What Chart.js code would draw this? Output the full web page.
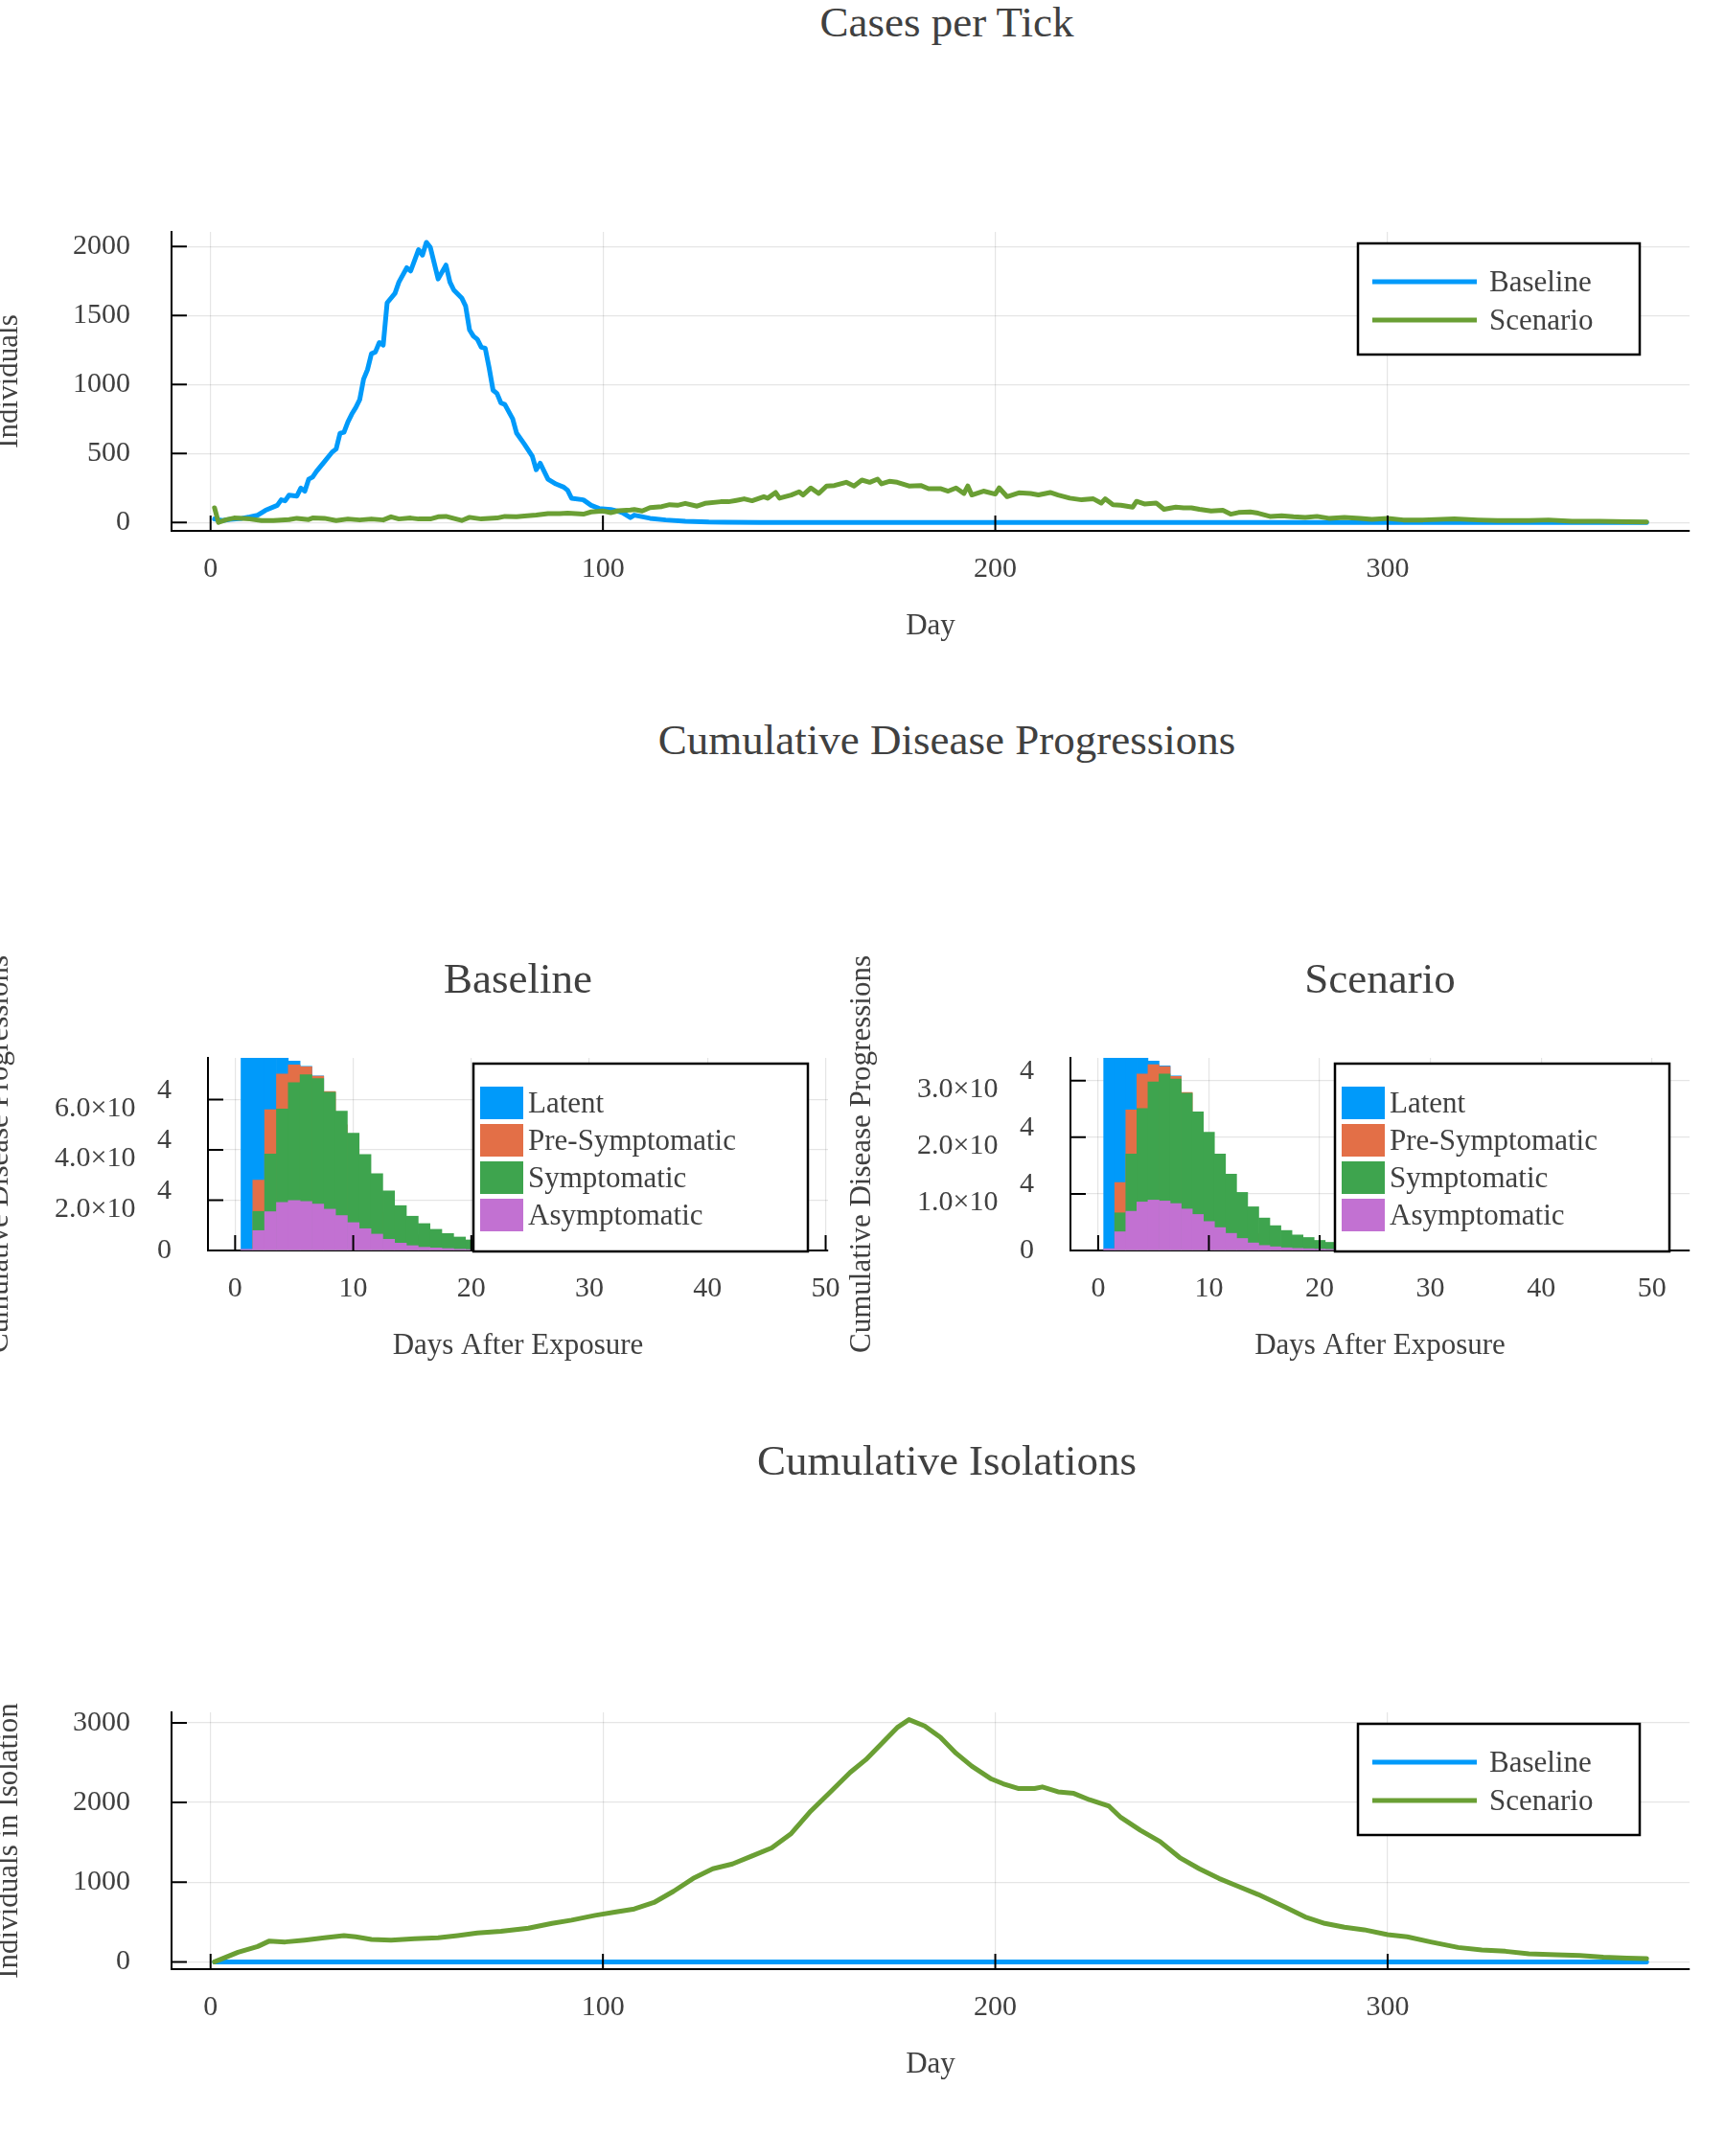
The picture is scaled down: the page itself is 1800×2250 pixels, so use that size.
<!DOCTYPE html>
<html>
<head>
<meta charset="utf-8">
<script src="https://cdn.jsdelivr.net/npm/chart.js@4.4.1/dist/chart.umd.min.js"></script>
<style>
  html, body { margin: 0; padding: 0; background: #fff; overflow: hidden; }
  #page { position: relative; width: 1800px; height: 2250px; }
  canvas { position: absolute; }
  .suptitle { position: absolute; left: 388px; width: 1200px; text-align: center;
    font: 45px/45px 'Liberation Serif', serif; color: #404040; white-space: nowrap; }
</style>
</head>
<body>
<div id="page">
  <div class="suptitle" style="top:1px">Cases per Tick</div>
  <canvas id="cases" width="1800" height="700" style="left:0;top:0"></canvas>
  <div class="suptitle" style="top:750px">Cumulative Disease Progressions</div>
  <canvas id="progBase" width="900" height="700" style="left:0;top:800px"></canvas>
  <canvas id="progScen" width="940" height="700" style="left:860px;top:800px"></canvas>
  <div class="suptitle" style="top:1502px">Cumulative Isolations</div>
  <canvas id="isolation" width="1800" height="690" style="left:0;top:1560px"></canvas>
</div>
<script>
// tick values
const dayTicks = [0, 100, 200, 300];
const casesTicks = [0, 500, 1000, 1500, 2000];
const isolationTicks = [0, 1000, 2000, 3000];
const exposureTicks = [0, 10, 20, 30, 40, 50];
const baseProgTicks = [0, 20000, 40000, 60000];
const scenProgTicks = [0, 10000, 20000, 30000];

// cases per tick
const baselineCaseDays = [1, 3, 5, 8, 10, 12, 14, 17, 18, 19, 20, 22, 23, 24, 25, 26, 27, 29, 31, 32,
  33, 34, 35, 36, 37, 38, 39, 40, 41, 42, 43, 44, 45, 47, 48, 50, 51, 53, 54, 55,
  56, 58, 60, 61, 62, 64, 65, 66, 67, 68, 69, 70, 71, 72, 73, 74, 75, 77, 78, 80,
  82, 83, 84, 86, 88, 90, 91, 92, 95, 97, 99, 102, 104, 105, 107, 108, 112, 116, 121, 127,
  131, 140, 160, 200, 250, 300, 366];
const baselineCases = [25, 14, 22, 30, 40, 53, 88, 124, 164, 157, 198, 191, 249, 226, 313, 329, 371, 440, 510, 532,
  647, 654, 728, 786, 832, 889, 1039, 1108, 1223, 1235, 1304, 1286, 1592, 1661, 1742, 1846, 1823, 1977, 1938, 2030,
  1995, 1765, 1865, 1742, 1684, 1627, 1569, 1396, 1350, 1327, 1270, 1263, 1120, 958, 935, 866, 855, 751, 647, 567,
  480, 382, 429, 313, 279, 256, 233, 175, 164, 124, 101, 94, 80, 70, 35, 53, 30, 18, 9, 3,
  2, 0, 0, 0, 0, 0, 0];

const scenarioCaseDays = [1, 2, 4, 6, 10, 13, 16, 20, 22, 25, 26, 29, 32, 35, 38, 41, 44, 46, 48, 51,
  53, 56, 58, 60, 64, 66, 69, 73, 75, 78, 80, 83, 86, 89, 91, 95, 97, 100, 102, 104,
  107, 108, 110, 112, 115, 117, 119, 121, 124, 126, 130, 132, 134, 136, 138, 141, 142, 144, 145, 148,
  150, 151, 153, 155, 157, 159, 162, 164, 166, 168, 170, 171, 173, 175, 178, 181, 183, 186, 188, 190,
  192, 193, 194, 197, 200, 201, 203, 206, 209, 211, 214, 216, 219, 222, 225, 227, 228, 230, 232, 235,
  236, 238, 241, 243, 246, 248, 250, 252, 255, 258, 260, 262, 265, 267, 270, 273, 276, 279, 282, 285,
  289, 293, 296, 300, 304, 309, 317, 323, 328, 336, 341, 347, 354, 361, 366];
const scenarioCases = [106, 0, 20, 32, 25, 14, 14, 21, 30, 21, 32, 30, 14, 25, 18, 25, 18, 41, 25, 32,
  25, 25, 41, 44, 14, 37, 25, 32, 44, 41, 46, 53, 64, 64, 67, 60, 76, 83, 71, 85,
  90, 94, 83, 108, 115, 129, 124, 138, 118, 138, 150, 150, 160, 171, 157, 187, 176, 217, 176, 199,
  222, 199, 250, 210, 264, 268, 291, 264, 307, 291, 314, 280, 298, 291, 264, 268, 245, 245, 227, 250,
  210, 264, 199, 227, 206, 250, 187, 215, 210, 199, 217, 199, 176, 164, 171, 141, 171, 129, 125, 111,
  153, 134, 141, 95, 111, 106, 106, 95, 83, 88, 60, 72, 76, 67, 44, 49, 42, 37, 44, 30,
  37, 30, 23, 30, 18, 18, 25, 18, 14, 14, 18, 9, 9, 5, 4];

// cumulative isolations
const baselineIsoDays = [1, 100, 200, 300, 366];
const baselineIso = [0, 0, 0, 0, 0];
const scenarioIsoDays = [1, 7, 12, 15, 19, 24, 29, 34, 37, 41, 46, 52, 58, 63, 68, 74, 81, 87, 92, 98,
  103, 108, 113, 118, 123, 128, 133, 138, 143, 148, 153, 158, 163, 167, 171, 175, 178, 182, 186, 190,
  194, 199, 202, 206, 210, 212, 216, 220, 224, 229, 232, 237, 242, 247, 252, 257, 262, 267, 274, 279,
  284, 289, 294, 300, 305, 311, 318, 324, 330, 336, 343, 349, 355, 361, 366];
const scenarioIso = [0, 121, 193, 262, 250, 274, 302, 330, 314, 282, 274, 290, 302, 330, 362, 383, 423, 483, 524, 584,
  624, 664, 745, 886, 1047, 1168, 1228, 1329, 1430, 1611, 1893, 2134, 2376, 2537, 2738, 2940, 3040, 2960, 2819, 2618,
  2456, 2295, 2235, 2175, 2175, 2195, 2134, 2114, 2034, 1953, 1812, 1651, 1510, 1309, 1168, 1047, 946, 846, 685, 564,
  483, 435, 403, 342, 314, 250, 181, 149, 133, 101, 89, 81, 60, 48, 40];

// disease progressions, per day after exposure
const exposureDays = [1, 2, 3, 4, 5, 6, 7, 8, 9, 10, 11, 12, 13, 14, 15, 16, 17, 18,
  19, 20, 21, 22, 23, 24, 25, 26, 27, 28, 29, 30, 31, 32, 33, 34, 35, 36];
const baseLatent = [90000, 90000, 86000, 77500, 75300, 73250, 69400, 50000, 32000, 18000, 9000, 4000, 1500, 600, 200, 80, 30, 10,
  0, 0, 0, 0, 0, 0, 0, 0, 0, 0, 0, 0, 0, 0, 0, 0, 0, 0];
const basePreSymptomatic = [0, 28000, 56000, 70200, 73760, 73000, 69300, 63200, 50000, 40000, 30000, 22000, 15000, 10000, 6000, 3500, 2000, 1000,
  500, 250, 100, 50, 0, 0, 0, 0, 0, 0, 0, 0, 0, 0, 0, 0, 0, 0];
const baseSymptomatic = [0, 15540, 38350, 56310, 66760, 69940, 68410, 62940, 55420, 46630, 38220, 30580, 23700, 17840, 13630, 10700, 8410, 6750,
  5350, 4200, 3300, 2600, 2000, 1600, 1200, 900, 700, 500, 350, 250, 150, 100, 60, 30, 10, 0];
const baseAsymptomatic = [500, 7900, 15420, 19110, 19870, 19490, 18470, 16430, 13890, 11080, 8660, 6500, 4460, 2930, 1910, 1270, 1020, 760,
  510, 380, 280, 200, 140, 100, 70, 50, 30, 20, 10, 5, 0, 0, 0, 0, 0, 0];
const scenLatent = [40000, 40000, 38000, 35000, 33420, 32570, 30820, 22000, 13000, 7000, 3000, 1200, 400, 150, 50, 0, 0, 0,
  0, 0, 0, 0, 0, 0, 0, 0, 0, 0, 0, 0, 0, 0, 0, 0, 0, 0];
const scenPreSymptomatic = [0, 12000, 24830, 31160, 32800, 32460, 30710, 27880, 22000, 17000, 12000, 8000, 5000, 3000, 1500, 700, 300, 100,
  0, 0, 0, 0, 0, 0, 0, 0, 0, 0, 0, 0, 0, 0, 0, 0, 0, 0];
const scenSymptomatic = [0, 6640, 17030, 25060, 29750, 31160, 30260, 27770, 24490, 20870, 17030, 13480, 10250, 7710, 5730, 4380, 3530, 2740,
  2290, 1780, 1440, 1150, 900, 700, 520, 380, 270, 180, 120, 80, 50, 30, 15, 5, 0, 0];
const scenAsymptomatic = [310, 3300, 6920, 8560, 8900, 8730, 8280, 7320, 6360, 5110, 4040, 3020, 2120, 1330, 880, 650, 480, 370,
  310, 250, 200, 150, 110, 80, 60, 40, 25, 15, 8, 4, 0, 0, 0, 0, 0, 0];

const textColor = '#404040';
const gridColor = 'rgba(0,0,0,0.1)';
const blue = '#009AFA', olive = '#6A9F34';
const histColors = ['#009AFA', '#E36F47', '#3EA44E', '#C271D2'];
const lineWidth = 5;

Chart.defaults.font.family = "'Liberation Serif', 'Times New Roman', serif";
Chart.defaults.color = textColor;

const toPoints = (xs, ys) => xs.map((x, i) => ({x: x, y: ys[i]}));

// tick marks pointing into the plot, like the original
const innerTicks = {
  id: 'innerTicks',
  afterDatasetsDraw(chart) {
    const {ctx, chartArea: a, scales} = chart;
    ctx.save();
    ctx.strokeStyle = '#000';
    ctx.lineWidth = 2;
    ctx.beginPath();
    scales.x.ticks.forEach(t => {
      const px = scales.x.getPixelForValue(t.value);
      ctx.moveTo(px, a.bottom);
      ctx.lineTo(px, a.bottom - 16);
    });
    scales.y.ticks.forEach(t => {
      const py = scales.y.getPixelForValue(t.value);
      ctx.moveTo(a.left, py);
      ctx.lineTo(a.left + 16, py);
    });
    ctx.stroke();
    ctx.restore();
  }
};

// framed legend drawn on top of the data
const boxLegend = {
  id: 'boxLegend',
  afterDraw(chart, args, o) {
    const {ctx, chartArea: a} = chart;
    const x0 = a.right - o.right - o.width;
    const y0 = a.top + o.top;
    ctx.save();
    ctx.fillStyle = '#fff';
    ctx.fillRect(x0, y0, o.width, o.height);
    ctx.strokeStyle = '#000';
    ctx.lineWidth = 2.5;
    ctx.strokeRect(x0, y0, o.width, o.height);
    ctx.font = "31px 'Liberation Serif', serif";
    ctx.textBaseline = 'middle';
    chart.data.datasets.forEach((ds, i) => {
      const cy = y0 + o.firstRow + i * o.rowGap;
      if (o.kind === 'line') {
        ctx.strokeStyle = ds.borderColor;
        ctx.lineWidth = lineWidth;
        ctx.beginPath();
        ctx.moveTo(x0 + 15, cy - 2);
        ctx.lineTo(x0 + 124, cy - 2);
        ctx.stroke();
      } else {
        ctx.fillStyle = ds.backgroundColor;
        ctx.fillRect(x0 + 7, cy - 19, 45, 34);
      }
      ctx.fillStyle = textColor;
      ctx.fillText(ds.label, x0 + o.textX, cy);
    });
    ctx.restore();
  }
};

function xAxis(min, max, ticks, title) {
  return {
    type: 'linear', min: min, max: max, offset: false,
    afterBuildTicks: s => { s.ticks = ticks.map(v => ({value: v})); },
    afterFit: s => { s.height = 116; s.paddingLeft = s.paddingRight = s.paddingTop = s.paddingBottom = 0; },
    grid: {color: gridColor, lineWidth: 1.2, drawTicks: false, offset: false},
    border: {display: true, color: '#000', width: 2},
    ticks: {padding: 22.5, color: textColor, font: {size: 30}, maxRotation: 0, autoSkip: false,
      callback: v => String(v)},
    title: {display: true, text: title, color: textColor, font: {size: 31}, padding: {top: 0, bottom: -2.5}}
  };
}

function yAxis(min, max, ticks, title, opts) {
  return {
    type: 'linear', min: min, max: max,
    afterBuildTicks: s => { s.ticks = ticks.map(v => ({value: v})); },
    afterFit: s => { s.width = opts.width; s.paddingLeft = s.paddingRight = s.paddingTop = s.paddingBottom = 0; },
    grid: {color: gridColor, lineWidth: 1.2, drawTicks: false},
    border: {display: true, color: '#000', width: 2},
    ticks: {padding: opts.pad, color: textColor, font: opts.font, autoSkip: false, callback: opts.fmt},
    title: {display: true, text: title, color: textColor, font: {size: 31}, padding: {top: opts.titleShift, bottom: 0}}
  };
}

function lineChart(id, yTitle, yMin, yMax, yTicks, baseData, scenData, pad) {
  new Chart(document.getElementById(id), {
    type: 'line',
    data: {
      datasets: [
        {label: 'Baseline', data: baseData, borderColor: blue, backgroundColor: blue, order: 1},
        {label: 'Scenario', data: scenData, borderColor: olive, backgroundColor: olive, order: 0}
      ]
    },
    options: {
      responsive: false, animation: false, devicePixelRatio: 1, events: [],
      layout: {padding: pad, autoPadding: false},
      elements: {
        line: {borderWidth: lineWidth, tension: 0, borderJoinStyle: 'round', borderCapStyle: 'round'},
        point: {radius: 0}
      },
      scales: {
        x: xAxis(-9.95, 376.95, dayTicks, 'Day'),
        y: yAxis(yMin, yMax, yTicks, yTitle, {width: 179, pad: 43, titleShift: -8.6,
          font: {size: 30}, fmt: v => String(v)})
      },
      plugins: {
        legend: {display: false}, tooltip: {enabled: false},
        boxLegend: {kind: 'line', right: 52, top: 12, width: 294, height: 116, firstRow: 42, rowGap: 40, textX: 137}
      }
    },
    plugins: [innerTicks, boxLegend]
  });
}

// 6.0×10 with its exponent set above, as in the source figure
function sciLabel(v) {
  if (v === 0) return '0';
  const e = Math.floor(Math.log10(v));
  return [String(e), (v / Math.pow(10, e)).toFixed(1) + '×10     '];
}

function progChart(id, title, xRange, yMax, yTicks, series, frame) {
  const labels = ['Latent', 'Pre-Symptomatic', 'Symptomatic', 'Asymptomatic'];
  new Chart(document.getElementById(id), {
    type: 'bar',
    data: {
      datasets: series.map((vals, i) => ({
        label: labels[i],
        data: toPoints(exposureDays, vals),
        backgroundColor: histColors[i],
        borderWidth: 0,
        grouped: false,
        barPercentage: 1,
        categoryPercentage: 1,
        order: 3 - i
      }))
    },
    options: {
      responsive: false, animation: false, devicePixelRatio: 1, events: [],
      layout: {padding: {top: 0, right: frame.right, bottom: 79, left: 0}, autoPadding: false},
      scales: {
        x: xAxis(xRange[0], xRange[1], exposureTicks, 'Days After Exposure'),
        y: yAxis(0, yMax, yTicks, 'Cumulative Disease Progressions', {width: frame.yWidth, pad: 38,
          titleShift: frame.titleShift, font: {size: 30, lineHeight: 0.633}, fmt: v => sciLabel(v)})
      },
      plugins: {
        legend: {display: false}, tooltip: {enabled: false},
        title: {display: true, text: title, color: textColor, fullSize: false,
          font: {size: 45, weight: 'normal'}, padding: {top: 196.8, bottom: 53.2}},
        boxLegend: {kind: 'box', right: 21, top: 6, width: 349, height: 196, firstRow: 43, rowGap: 39, textX: 57}
      }
    },
    plugins: [innerTicks, boxLegend]
  });
}

lineChart('cases', 'Individuals', -61, 2106, casesTicks,
  toPoints(baselineCaseDays, baselineCases), toPoints(scenarioCaseDays, scenarioCases),
  {top: 242, right: 37, bottom: 30, left: 0});

progChart('progBase', 'Baseline', [-2.3, 50.2], 76600, baseProgTicks,
  [baseLatent, basePreSymptomatic, baseSymptomatic, baseAsymptomatic],
  {yWidth: 217, right: 36, titleShift: -18.6});
progChart('progScen', 'Scenario', [-2.5, 53.4], 34000, scenProgTicks,
  [scenLatent, scenPreSymptomatic, scenSymptomatic, scenAsymptomatic],
  {yWidth: 257, right: 37, titleShift: 21.4});

lineChart('isolation', 'Individuals in Isolation', -91, 3131, isolationTicks,
  toPoints(baselineIsoDays, baselineIso), toPoints(scenarioIsoDays, scenarioIso),
  {top: 227, right: 37, bottom: 79, left: 0});
</script>
</body>
</html>
